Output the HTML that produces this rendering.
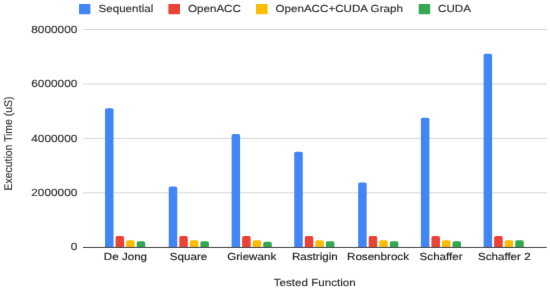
<!DOCTYPE html><html><head><meta charset="utf-8"><style>html,body{margin:0;padding:0;background:#fff}svg{display:block}text{text-rendering:geometricPrecision}</style></head><body><svg width="550" height="290" viewBox="0 0 550 290" >
<defs><filter id="softA" x="0" y="0" width="100%" height="100%" filterUnits="userSpaceOnUse" color-interpolation-filters="sRGB"><feConvolveMatrix order="3" kernelMatrix="0.00250 0.04500 0.00250 0.04500 0.81000 0.04500 0.00250 0.04500 0.00250" divisor="1" edgeMode="duplicate" preserveAlpha="true"/></filter><filter id="softB" x="0" y="0" width="100%" height="100%" filterUnits="userSpaceOnUse" color-interpolation-filters="sRGB"><feConvolveMatrix order="3" kernelMatrix="0.00360 0.05280 0.00360 0.05280 0.77440 0.05280 0.00360 0.05280 0.00360" divisor="1" edgeMode="none" preserveAlpha="false"/></filter></defs><g filter="url(#softA)">
<rect width="550" height="290" fill="#fff"/>
<rect x="83" y="192.38" width="463.8" height="0.9" fill="#d2d2d2"/>
<rect x="83" y="137.95" width="463.8" height="0.9" fill="#d2d2d2"/>
<rect x="83" y="83.53" width="463.8" height="0.9" fill="#d2d2d2"/>
<rect x="83" y="29.10" width="463.8" height="0.9" fill="#d2d2d2"/>
<path d="M105.05,247.0 V109.82 Q105.05,108.22 106.85,108.22 H111.75 Q113.55,108.22 113.55,109.82 V247.0 Z" fill="#4285f4"/>
<path d="M115.60,247.0 V237.72 Q115.60,236.12 117.40,236.12 H122.30 Q124.10,236.12 124.10,237.72 V247.0 Z" fill="#ea4335"/>
<path d="M126.15,247.0 V241.80 Q126.15,240.20 127.95,240.20 H132.85 Q134.65,240.20 134.65,241.80 V247.0 Z" fill="#fbbc04"/>
<path d="M136.70,247.0 V242.89 Q136.70,241.29 138.50,241.29 H143.40 Q145.20,241.29 145.20,242.89 V247.0 Z" fill="#34a853"/>
<path d="M168.75,247.0 V188.19 Q168.75,186.59 170.55,186.59 H175.45 Q177.25,186.59 177.25,188.19 V247.0 Z" fill="#4285f4"/>
<path d="M179.30,247.0 V237.72 Q179.30,236.12 181.10,236.12 H186.00 Q187.80,236.12 187.80,237.72 V247.0 Z" fill="#ea4335"/>
<path d="M189.85,247.0 V241.80 Q189.85,240.20 191.65,240.20 H196.55 Q198.35,240.20 198.35,241.80 V247.0 Z" fill="#fbbc04"/>
<path d="M200.40,247.0 V242.89 Q200.40,241.29 202.20,241.29 H207.10 Q208.90,241.29 208.90,242.89 V247.0 Z" fill="#34a853"/>
<path d="M231.60,247.0 V135.67 Q231.60,134.07 233.40,134.07 H238.30 Q240.10,134.07 240.10,135.67 V247.0 Z" fill="#4285f4"/>
<path d="M242.15,247.0 V237.72 Q242.15,236.12 243.95,236.12 H248.85 Q250.65,236.12 250.65,237.72 V247.0 Z" fill="#ea4335"/>
<path d="M252.70,247.0 V241.80 Q252.70,240.20 254.50,240.20 H259.40 Q261.20,240.20 261.20,241.80 V247.0 Z" fill="#fbbc04"/>
<path d="M263.25,247.0 V243.43 Q263.25,241.83 265.05,241.83 H269.95 Q271.75,241.83 271.75,243.43 V247.0 Z" fill="#34a853"/>
<path d="M294.25,247.0 V153.36 Q294.25,151.76 296.05,151.76 H300.95 Q302.75,151.76 302.75,153.36 V247.0 Z" fill="#4285f4"/>
<path d="M304.80,247.0 V237.72 Q304.80,236.12 306.60,236.12 H311.50 Q313.30,236.12 313.30,237.72 V247.0 Z" fill="#ea4335"/>
<path d="M315.35,247.0 V241.80 Q315.35,240.20 317.15,240.20 H322.05 Q323.85,240.20 323.85,241.80 V247.0 Z" fill="#fbbc04"/>
<path d="M325.90,247.0 V242.89 Q325.90,241.29 327.70,241.29 H332.60 Q334.40,241.29 334.40,242.89 V247.0 Z" fill="#34a853"/>
<path d="M358.15,247.0 V184.11 Q358.15,182.51 359.95,182.51 H364.85 Q366.65,182.51 366.65,184.11 V247.0 Z" fill="#4285f4"/>
<path d="M368.70,247.0 V237.72 Q368.70,236.12 370.50,236.12 H375.40 Q377.20,236.12 377.20,237.72 V247.0 Z" fill="#ea4335"/>
<path d="M379.25,247.0 V241.80 Q379.25,240.20 381.05,240.20 H385.95 Q387.75,240.20 387.75,241.80 V247.0 Z" fill="#fbbc04"/>
<path d="M389.80,247.0 V242.89 Q389.80,241.29 391.60,241.29 H396.50 Q398.30,241.29 398.30,242.89 V247.0 Z" fill="#34a853"/>
<path d="M420.90,247.0 V119.34 Q420.90,117.74 422.70,117.74 H427.60 Q429.40,117.74 429.40,119.34 V247.0 Z" fill="#4285f4"/>
<path d="M431.45,247.0 V237.72 Q431.45,236.12 433.25,236.12 H438.15 Q439.95,236.12 439.95,237.72 V247.0 Z" fill="#ea4335"/>
<path d="M442.00,247.0 V241.80 Q442.00,240.20 443.80,240.20 H448.70 Q450.50,240.20 450.50,241.80 V247.0 Z" fill="#fbbc04"/>
<path d="M452.55,247.0 V242.89 Q452.55,241.29 454.35,241.29 H459.25 Q461.05,241.29 461.05,242.89 V247.0 Z" fill="#34a853"/>
<path d="M483.60,247.0 V55.39 Q483.60,53.79 485.40,53.79 H490.30 Q492.10,53.79 492.10,55.39 V247.0 Z" fill="#4285f4"/>
<path d="M494.15,247.0 V237.72 Q494.15,236.12 495.95,236.12 H500.85 Q502.65,236.12 502.65,237.72 V247.0 Z" fill="#ea4335"/>
<path d="M504.70,247.0 V241.80 Q504.70,240.20 506.50,240.20 H511.40 Q513.20,240.20 513.20,241.80 V247.0 Z" fill="#fbbc04"/>
<path d="M515.25,247.0 V241.80 Q515.25,240.20 517.05,240.20 H521.95 Q523.75,240.20 523.75,241.80 V247.0 Z" fill="#34a853"/>
<rect x="83" y="246.95" width="463.8" height="0.95" fill="#3c3c3c"/>
<rect x="79" y="4" width="11.4" height="10.2" rx="1" fill="#4285f4"/>
<rect x="168.4" y="4" width="11.6" height="10.2" rx="1" fill="#ea4335"/>
<rect x="256" y="4" width="11.6" height="10.2" rx="1" fill="#fbbc04"/>
<rect x="418.7" y="4" width="11.5" height="10.2" rx="1" fill="#34a853"/>
</g><g filter="url(#softB)">
<text transform="translate(77.30,249.95) scale(1.132,1)" text-anchor="end" font-size="10.455" fill="#333" stroke="#333" stroke-width="0.16" font-family="Liberation Sans, Arial, sans-serif">0</text>
<text transform="translate(77.30,196.02) scale(1.132,1)" text-anchor="end" font-size="10.455" fill="#333" stroke="#333" stroke-width="0.16" font-family="Liberation Sans, Arial, sans-serif">2000000</text>
<text transform="translate(77.30,141.80) scale(1.132,1)" text-anchor="end" font-size="10.455" fill="#333" stroke="#333" stroke-width="0.16" font-family="Liberation Sans, Arial, sans-serif">4000000</text>
<text transform="translate(77.30,87.38) scale(1.132,1)" text-anchor="end" font-size="10.455" fill="#333" stroke="#333" stroke-width="0.16" font-family="Liberation Sans, Arial, sans-serif">6000000</text>
<text transform="translate(77.30,32.55) scale(1.132,1)" text-anchor="end" font-size="10.455" fill="#333" stroke="#333" stroke-width="0.16" font-family="Liberation Sans, Arial, sans-serif">8000000</text>
<text transform="translate(125.47,260.00) scale(1.132,1)" text-anchor="middle" font-size="10.25" fill="#222" stroke="#222" stroke-width="0.16" font-family="Liberation Sans, Arial, sans-serif">De Jong</text>
<text transform="translate(188.53,260.00) scale(1.132,1)" text-anchor="middle" font-size="10.25" fill="#222" stroke="#222" stroke-width="0.16" font-family="Liberation Sans, Arial, sans-serif">Square</text>
<text transform="translate(251.68,260.00) scale(1.132,1)" text-anchor="middle" font-size="10.25" fill="#222" stroke="#222" stroke-width="0.16" font-family="Liberation Sans, Arial, sans-serif">Griewank</text>
<text transform="translate(314.82,260.00) scale(1.132,1)" text-anchor="middle" font-size="10.25" fill="#222" stroke="#222" stroke-width="0.16" font-family="Liberation Sans, Arial, sans-serif">Rastrigin</text>
<text transform="translate(377.98,260.00) scale(1.132,1)" text-anchor="middle" font-size="10.25" fill="#222" stroke="#222" stroke-width="0.16" font-family="Liberation Sans, Arial, sans-serif">Rosenbrock</text>
<text transform="translate(441.12,260.00) scale(1.132,1)" text-anchor="middle" font-size="10.25" fill="#222" stroke="#222" stroke-width="0.16" font-family="Liberation Sans, Arial, sans-serif">Schaffer</text>
<text transform="translate(504.27,260.00) scale(1.132,1)" text-anchor="middle" font-size="10.25" fill="#222" stroke="#222" stroke-width="0.16" font-family="Liberation Sans, Arial, sans-serif">Schaffer 2</text>
<text transform="translate(314.70,285.60) scale(1.132,1)" text-anchor="middle" font-size="10.25" fill="#333" stroke="#333" stroke-width="0.16" font-family="Liberation Sans, Arial, sans-serif">Tested Function</text>
<text transform="translate(12.1,143.5) scale(1.07,1) rotate(-90)" text-anchor="middle" font-size="10.45" fill="#333" stroke="#333" stroke-width="0.12" font-family="Liberation Sans, Arial, sans-serif">Execution Time (uS)</text>
<text transform="translate(98.50,12.30) scale(1.132,1)" text-anchor="start" font-size="10.25" fill="#333" stroke="#333" stroke-width="0.16" font-family="Liberation Sans, Arial, sans-serif">Sequential</text>
<text transform="translate(188.00,12.30) scale(1.132,1)" text-anchor="start" font-size="10.25" fill="#333" stroke="#333" stroke-width="0.16" font-family="Liberation Sans, Arial, sans-serif">OpenACC</text>
<text transform="translate(275.50,12.30) scale(1.132,1)" text-anchor="start" font-size="10.25" fill="#333" stroke="#333" stroke-width="0.16" font-family="Liberation Sans, Arial, sans-serif">OpenACC+CUDA Graph</text>
<text transform="translate(438.00,12.30) scale(1.132,1)" text-anchor="start" font-size="10.25" fill="#333" stroke="#333" stroke-width="0.16" font-family="Liberation Sans, Arial, sans-serif">CUDA</text>
</g></svg></body></html>
